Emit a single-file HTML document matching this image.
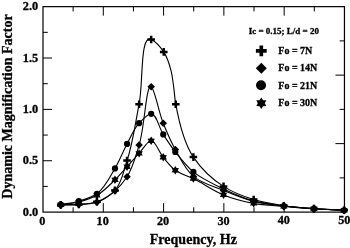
<!DOCTYPE html>
<html><head><meta charset="utf-8"><title>Dynamic Magnification Factor</title>
<style>html,body{margin:0;padding:0;background:#fff}svg{display:block}</style></head>
<body><svg width="350" height="248" viewBox="0 0 350 248">
<rect width="350" height="248" fill="#fff"/>
<rect x="43.00" y="6.65" width="301.45" height="205.45" fill="none" stroke="#000" stroke-width="1.2"/>
<path d="M73.14 212.10v-4.80M73.14 6.65v4.80M103.29 212.10v-9.00M103.29 6.65v9.00M133.44 212.10v-4.80M133.44 6.65v4.80M163.58 212.10v-9.00M163.58 6.65v9.00M193.72 212.10v-4.80M193.72 6.65v4.80M223.87 212.10v-9.00M223.87 6.65v9.00M254.01 212.10v-4.80M254.01 6.65v4.80M284.16 212.10v-9.00M284.16 6.65v9.00M314.31 212.10v-4.80M314.31 6.65v4.80M43.00 186.42h4.80M43.00 160.74h9.00M43.00 135.06h4.80M43.00 109.38h9.00M43.00 83.69h4.80M43.00 58.01h9.00M43.00 32.33h4.80M344.45 40.89h-4.80M344.45 75.13h-9.00M344.45 109.37h-4.80M344.45 143.62h-9.00M344.45 177.86h-4.80" fill="none" stroke="#000" stroke-width="1"/>
<g fill="none" stroke="#000" stroke-width="1.1">
<path d="M60.74 204.90C66.77 204.73 72.82 204.93 78.82 204.40C84.88 203.87 91.24 203.71 96.91 201.70C103.42 199.39 110.30 195.43 115.00 190.40C121.80 183.12 123.65 170.97 127.06 160.60C132.82 143.05 135.31 123.16 139.11 104.20C143.40 82.84 139.75 34.20 151.17 39.50C154.67 41.12 160.50 47.10 163.73 51.90C167.27 57.17 169.25 63.93 170.90 70.10C172.18 74.90 172.66 79.76 173.40 84.70C174.36 91.10 174.57 97.66 175.79 104.30C178.90 121.18 183.53 142.33 193.38 157.10C201.02 168.57 212.10 179.01 223.52 186.40C232.68 192.33 243.29 196.35 253.66 199.60C263.43 202.65 273.69 204.20 283.81 205.70C293.79 207.18 303.89 207.85 313.95 208.60C323.99 209.35 334.05 209.67 344.10 210.20"/>
<path d="M60.74 204.90C66.77 204.80 72.82 205.03 78.82 204.60C84.87 204.17 91.26 204.25 96.91 202.30C103.45 200.05 109.74 195.44 115.00 190.80C119.61 186.72 123.65 181.93 127.06 176.70C132.90 167.72 135.70 156.07 139.11 145.10C144.81 126.83 145.99 83.74 151.17 86.70C154.66 88.69 158.54 111.52 163.23 123.20C166.85 132.22 170.61 140.97 175.29 149.40C180.50 158.78 185.46 169.59 193.38 176.40C201.46 183.35 213.31 186.18 223.52 190.40C233.41 194.49 243.38 198.79 253.66 201.40C263.49 203.90 273.73 204.78 283.81 206.00C293.82 207.21 303.89 207.98 313.95 208.70C323.99 209.42 334.05 209.77 344.10 210.30"/>
<path d="M60.74 204.70C66.77 203.53 72.95 202.94 78.82 201.20C85.02 199.37 91.70 197.49 96.91 193.80C104.84 188.18 109.76 177.26 115.00 168.40C119.64 160.54 122.77 151.85 127.06 143.90C130.87 136.83 133.89 128.78 139.11 123.20C142.60 119.48 147.69 113.83 151.17 113.80C156.38 113.75 158.98 127.74 163.23 134.40C167.06 140.40 170.89 146.27 175.29 151.90C180.74 158.88 186.46 166.18 193.38 171.90C202.03 179.06 213.16 183.97 223.52 188.90C233.29 193.55 243.33 198.03 253.66 200.90C263.46 203.62 273.72 204.70 283.81 206.00C293.81 207.29 303.89 207.98 313.95 208.70C323.99 209.42 334.05 209.77 344.10 210.30"/>
<path d="M60.74 204.90C66.77 203.93 72.93 203.54 78.82 202.00C85.00 200.39 91.35 198.46 96.91 195.30C103.63 191.48 109.42 185.25 115.00 179.80C119.29 175.60 123.05 171.08 127.06 166.70C131.09 162.28 135.04 157.77 139.11 153.40C143.08 149.14 147.40 140.84 151.17 140.80C155.52 140.76 158.91 152.12 163.23 157.30C167.02 161.84 170.61 166.75 175.29 170.20C180.50 174.05 187.29 175.60 193.38 178.60C203.28 183.49 213.03 190.69 223.52 194.90C233.19 198.78 243.46 201.48 253.66 203.40C263.57 205.26 273.75 205.50 283.81 206.40C293.85 207.30 303.90 208.15 313.95 208.80C323.99 209.45 334.05 209.80 344.10 210.30"/>
</g>
<g fill="#000">
<path d="M59.48 201.10h2.51v2.55h2.55v2.51h-2.55v2.55h-2.51v-2.55h-2.55v-2.51h2.55z"/>
<path d="M77.57 200.60h2.51v2.55h2.55v2.51h-2.55v2.55h-2.51v-2.55h-2.55v-2.51h2.55z"/>
<path d="M95.66 197.90h2.51v2.55h2.55v2.51h-2.55v2.55h-2.51v-2.55h-2.55v-2.51h2.55z"/>
<path d="M113.74 186.60h2.51v2.55h2.55v2.51h-2.55v2.55h-2.51v-2.55h-2.55v-2.51h2.55z"/>
<path d="M125.80 156.80h2.51v2.55h2.55v2.51h-2.55v2.55h-2.51v-2.55h-2.55v-2.51h2.55z"/>
<path d="M137.86 100.40h2.51v2.55h2.55v2.51h-2.55v2.55h-2.51v-2.55h-2.55v-2.51h2.55z"/>
<path d="M149.92 35.70h2.51v2.55h2.55v2.51h-2.55v2.55h-2.51v-2.55h-2.55v-2.51h2.55z"/>
<path d="M162.48 48.10h2.51v2.55h2.55v2.51h-2.55v2.55h-2.51v-2.55h-2.55v-2.51h2.55z"/>
<path d="M174.53 100.50h2.51v2.55h2.55v2.51h-2.55v2.55h-2.51v-2.55h-2.55v-2.51h2.55z"/>
<path d="M192.12 153.30h2.51v2.55h2.55v2.51h-2.55v2.55h-2.51v-2.55h-2.55v-2.51h2.55z"/>
<path d="M222.27 182.60h2.51v2.55h2.55v2.51h-2.55v2.55h-2.51v-2.55h-2.55v-2.51h2.55z"/>
<path d="M252.41 195.80h2.51v2.55h2.55v2.51h-2.55v2.55h-2.51v-2.55h-2.55v-2.51h2.55z"/>
<path d="M282.56 201.90h2.51v2.55h2.55v2.51h-2.55v2.55h-2.51v-2.55h-2.55v-2.51h2.55z"/>
<path d="M312.70 204.80h2.51v2.55h2.55v2.51h-2.55v2.55h-2.51v-2.55h-2.55v-2.51h2.55z"/>
<path d="M342.85 206.40h2.51v2.55h2.55v2.51h-2.55v2.55h-2.51v-2.55h-2.55v-2.51h2.55z"/>
<path d="M60.74 201.15L64.49 204.90L60.74 208.65L56.99 204.90z"/>
<path d="M78.82 200.85L82.57 204.60L78.82 208.35L75.07 204.60z"/>
<path d="M96.91 198.55L100.66 202.30L96.91 206.05L93.16 202.30z"/>
<path d="M115.00 187.05L118.75 190.80L115.00 194.55L111.25 190.80z"/>
<path d="M127.06 172.95L130.81 176.70L127.06 180.45L123.31 176.70z"/>
<path d="M139.11 141.35L142.86 145.10L139.11 148.85L135.36 145.10z"/>
<path d="M151.17 82.95L154.92 86.70L151.17 90.45L147.42 86.70z"/>
<path d="M163.23 119.45L166.98 123.20L163.23 126.95L159.48 123.20z"/>
<path d="M175.29 145.65L179.04 149.40L175.29 153.15L171.54 149.40z"/>
<path d="M193.38 172.65L197.12 176.40L193.38 180.15L189.62 176.40z"/>
<path d="M223.52 186.65L227.27 190.40L223.52 194.15L219.77 190.40z"/>
<path d="M253.66 197.65L257.41 201.40L253.66 205.15L249.91 201.40z"/>
<path d="M283.81 202.25L287.56 206.00L283.81 209.75L280.06 206.00z"/>
<path d="M313.95 204.95L317.70 208.70L313.95 212.45L310.20 208.70z"/>
<path d="M344.10 206.55L347.85 210.30L344.10 214.05L340.35 210.30z"/>
<circle cx="60.74" cy="204.70" r="3.10"/>
<circle cx="78.82" cy="201.20" r="3.10"/>
<circle cx="96.91" cy="193.80" r="3.10"/>
<circle cx="115.00" cy="168.40" r="3.10"/>
<circle cx="127.06" cy="143.90" r="3.10"/>
<circle cx="139.11" cy="123.20" r="3.10"/>
<circle cx="151.17" cy="113.80" r="3.10"/>
<circle cx="163.23" cy="134.40" r="3.10"/>
<circle cx="175.29" cy="151.90" r="3.10"/>
<circle cx="193.38" cy="171.90" r="3.10"/>
<circle cx="223.52" cy="188.90" r="3.10"/>
<circle cx="253.66" cy="200.90" r="3.10"/>
<circle cx="283.81" cy="206.00" r="3.10"/>
<circle cx="313.95" cy="208.70" r="3.10"/>
<circle cx="344.10" cy="210.30" r="3.10"/>
<path d="M60.74 200.70L62.00 202.72L64.37 202.80L63.26 204.90L64.37 207.00L62.00 207.08L60.74 209.10L59.48 207.08L57.10 207.00L58.22 204.90L57.10 202.80L59.48 202.72z"/>
<path d="M78.82 197.80L80.08 199.82L82.46 199.90L81.34 202.00L82.46 204.10L80.08 204.18L78.82 206.20L77.56 204.18L75.19 204.10L76.30 202.00L75.19 199.90L77.56 199.82z"/>
<path d="M96.91 191.10L98.17 193.12L100.55 193.20L99.43 195.30L100.55 197.40L98.17 197.48L96.91 199.50L95.65 197.48L93.27 197.40L94.39 195.30L93.27 193.20L95.65 193.12z"/>
<path d="M115.00 175.60L116.26 177.62L118.64 177.70L117.52 179.80L118.64 181.90L116.26 181.98L115.00 184.00L113.74 181.98L111.36 181.90L112.48 179.80L111.36 177.70L113.74 177.62z"/>
<path d="M127.06 162.50L128.32 164.52L130.69 164.60L129.58 166.70L130.69 168.80L128.32 168.88L127.06 170.90L125.80 168.88L123.42 168.80L124.54 166.70L123.42 164.60L125.80 164.52z"/>
<path d="M139.11 149.20L140.37 151.22L142.75 151.30L141.63 153.40L142.75 155.50L140.37 155.58L139.11 157.60L137.85 155.58L135.48 155.50L136.59 153.40L135.48 151.30L137.85 151.22z"/>
<path d="M151.17 136.60L152.43 138.62L154.81 138.70L153.69 140.80L154.81 142.90L152.43 142.98L151.17 145.00L149.91 142.98L147.53 142.90L148.65 140.80L147.53 138.70L149.91 138.62z"/>
<path d="M163.23 153.10L164.49 155.12L166.87 155.20L165.75 157.30L166.87 159.40L164.49 159.48L163.23 161.50L161.97 159.48L159.59 159.40L160.71 157.30L159.59 155.20L161.97 155.12z"/>
<path d="M175.29 166.00L176.55 168.02L178.93 168.10L177.81 170.20L178.93 172.30L176.55 172.38L175.29 174.40L174.03 172.38L171.65 172.30L172.77 170.20L171.65 168.10L174.03 168.02z"/>
<path d="M193.38 174.40L194.63 176.42L197.01 176.50L195.90 178.60L197.01 180.70L194.63 180.78L193.38 182.80L192.12 180.78L189.74 180.70L190.85 178.60L189.74 176.50L192.12 176.42z"/>
<path d="M223.52 190.70L224.78 192.72L227.16 192.80L226.04 194.90L227.16 197.00L224.78 197.08L223.52 199.10L222.26 197.08L219.88 197.00L221.00 194.90L219.88 192.80L222.26 192.72z"/>
<path d="M253.66 199.20L254.92 201.22L257.30 201.30L256.19 203.40L257.30 205.50L254.92 205.58L253.66 207.60L252.41 205.58L250.03 205.50L251.14 203.40L250.03 201.30L252.41 201.22z"/>
<path d="M283.81 202.20L285.07 204.22L287.45 204.30L286.33 206.40L287.45 208.50L285.07 208.58L283.81 210.60L282.55 208.58L280.17 208.50L281.29 206.40L280.17 204.30L282.55 204.22z"/>
<path d="M313.95 204.60L315.21 206.62L317.59 206.70L316.47 208.80L317.59 210.90L315.21 210.98L313.95 213.00L312.69 210.98L310.32 210.90L311.44 208.80L310.32 206.70L312.69 206.62z"/>
<path d="M344.10 206.10L345.36 208.12L347.74 208.20L346.62 210.30L347.74 212.40L345.36 212.48L344.10 214.50L342.84 212.48L340.46 212.40L341.58 210.30L340.46 208.20L342.84 208.12z"/>
</g>
<g font-family="'Liberation Serif', serif" font-weight="bold" fill="#000" stroke="#000" stroke-width="0.3">
<g font-size="12.2" text-anchor="middle">
<text x="42.30" y="224.75">0</text>
<text x="102.69" y="224.68">10</text>
<text x="163.08" y="224.61">20</text>
<text x="223.47" y="224.54">30</text>
<text x="283.86" y="224.47">40</text>
<text x="344.25" y="224.40">50</text>
</g>
<g font-size="12.3" text-anchor="end">
<text x="38.2" y="215.70">0.0</text>
<text x="38.2" y="164.34">0.5</text>
<text x="38.2" y="112.97">1.0</text>
<text x="38.2" y="61.61">1.5</text>
<text x="38.2" y="10.25">2.0</text>
</g>
<text x="149.7" y="244.4" font-size="14" textLength="87.3" lengthAdjust="spacing">Frequency, Hz</text>
<text transform="translate(12.3 106.5) rotate(-90)" font-size="14" text-anchor="middle">Dynamic Magnification Factor</text>
<text x="283.8" y="34.3" font-size="9" text-anchor="middle">Ic = 0.15; L/d = 20</text>
<g font-size="10">
<text x="278.3" y="54.00">Fo = 7N</text>
<text x="278.3" y="71.30">Fo = 14N</text>
<text x="278.3" y="88.60">Fo = 21N</text>
<text x="278.3" y="106.00">Fo = 30N</text>
</g>
</g>
<g fill="#000">
<path d="M259.46 45.40h3.67v3.56h3.56v3.67h-3.56v3.56h-3.67v-3.56h-3.56v-3.67h3.56z"/>
<path d="M261.30 62.70L266.80 68.20L261.30 73.70L255.80 68.20z"/>
<circle cx="261.05" cy="85.30" r="5.00"/>
<path d="M261.30 97.40L263.04 100.19L266.32 100.30L264.78 103.20L266.32 106.10L263.04 106.21L261.30 109.00L259.56 106.21L256.28 106.10L257.82 103.20L256.28 100.30L259.56 100.19z"/>
</g>
</svg></body></html>
